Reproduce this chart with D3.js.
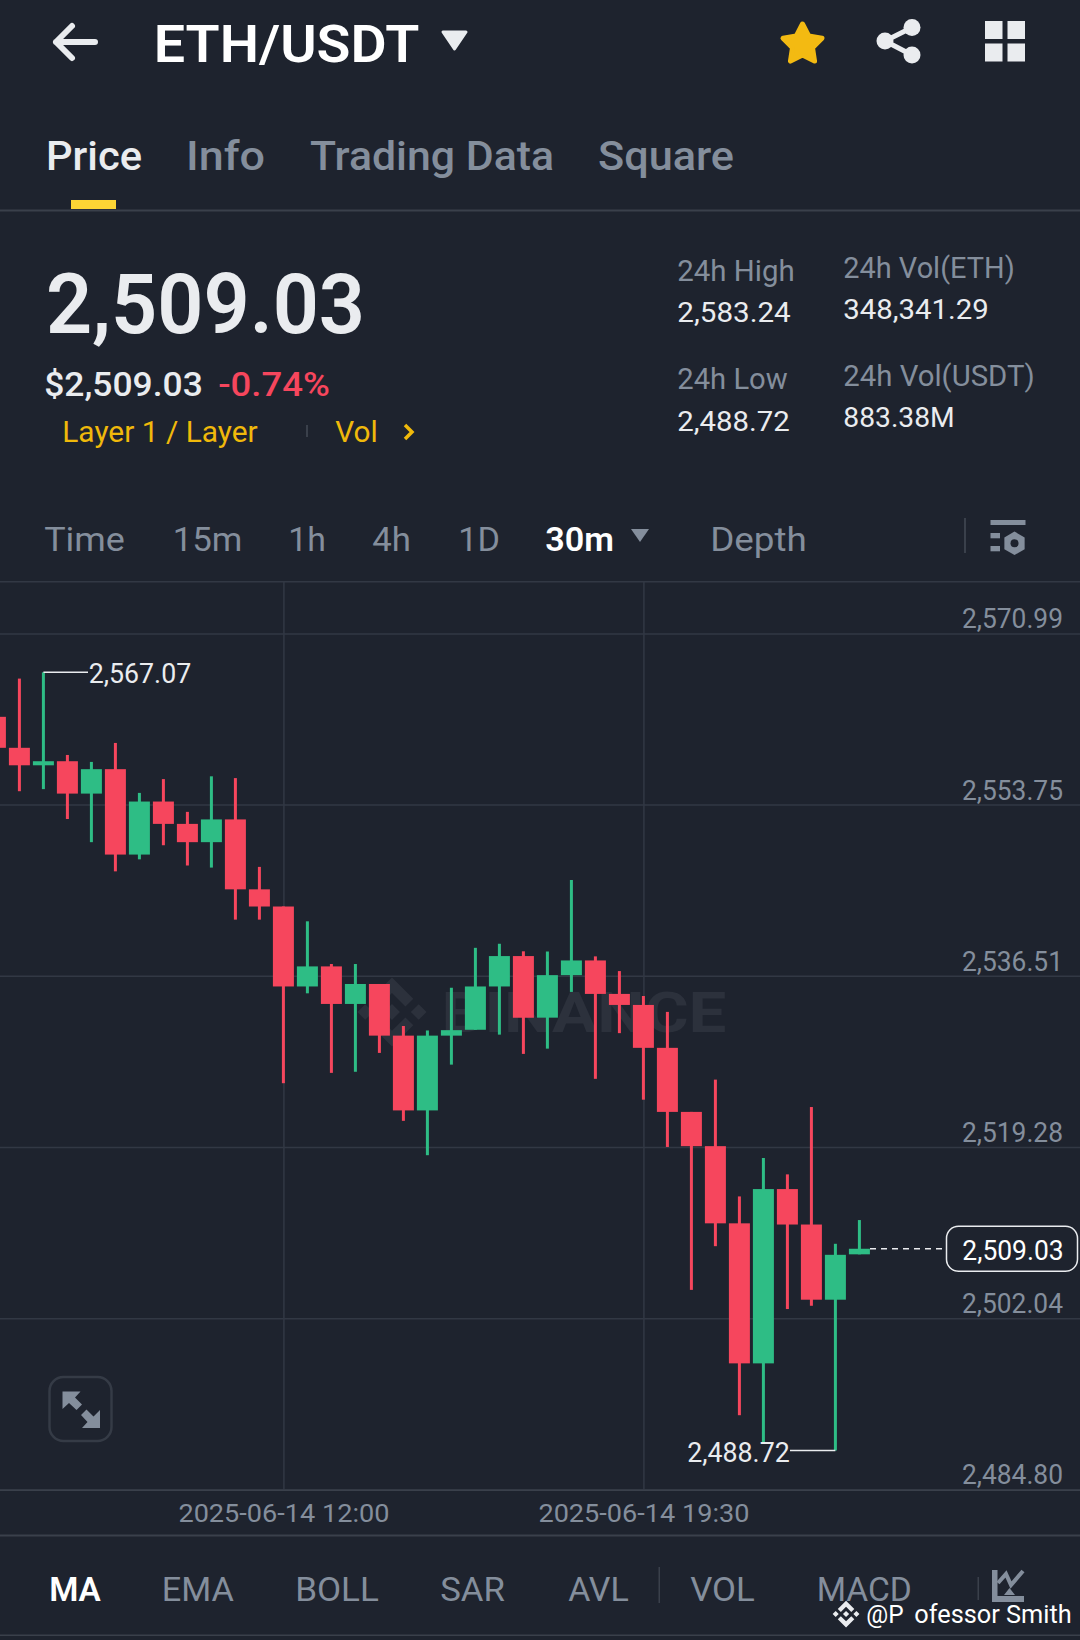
<!DOCTYPE html>
<html>
<head>
<meta charset="utf-8">
<script src="https://cdn.jsdelivr.net/npm/d3@7"></script>
<style>
  html, body { margin: 0; padding: 0; background: #1e232e; }
  svg { display: block; }
  text { font-family: Roboto, "Noto Sans", sans-serif; }
</style>
</head>
<body>
<div id="chart"></div>
<script>
// candles (30m)
const candleTimes = [
  "2025-06-14 06:00", "2025-06-14 06:30", "2025-06-14 07:00", "2025-06-14 07:30", "2025-06-14 08:00",
  "2025-06-14 08:30", "2025-06-14 09:00", "2025-06-14 09:30", "2025-06-14 10:00", "2025-06-14 10:30",
  "2025-06-14 11:00", "2025-06-14 11:30", "2025-06-14 12:00", "2025-06-14 12:30", "2025-06-14 13:00",
  "2025-06-14 13:30", "2025-06-14 14:00", "2025-06-14 14:30", "2025-06-14 15:00", "2025-06-14 15:30",
  "2025-06-14 16:00", "2025-06-14 16:30", "2025-06-14 17:00", "2025-06-14 17:30", "2025-06-14 18:00",
  "2025-06-14 18:30", "2025-06-14 19:00", "2025-06-14 19:30", "2025-06-14 20:00", "2025-06-14 20:30",
  "2025-06-14 21:00", "2025-06-14 21:30", "2025-06-14 22:00", "2025-06-14 22:30", "2025-06-14 23:00",
  "2025-06-14 23:30", "2025-06-15 00:00"
];
const opens = [
  2562.59, 2559.47, 2557.71, 2558.12, 2554.86, 2557.32, 2548.72, 2554.06, 2551.81, 2549.97,
  2552.26, 2545.22, 2543.49, 2535.44, 2537.46, 2533.68, 2535.69, 2530.49, 2522.96, 2530.49,
  2531.08, 2535.44, 2538.50, 2532.30, 2536.58, 2538.06, 2534.69, 2533.58, 2529.26, 2522.81,
  2519.36, 2511.59, 2497.49, 2515.04, 2511.47, 2503.90, 2508.47
];
const highs = [
  2565.00, 2566.44, 2567.07, 2558.75, 2558.05, 2559.96, 2554.93, 2556.32, 2553.02, 2556.60,
  2556.42, 2547.48, 2543.49, 2542.00, 2537.70, 2537.70, 2535.69, 2531.46, 2531.01, 2535.31,
  2539.33, 2539.74, 2538.98, 2538.96, 2546.16, 2538.47, 2536.99, 2534.48, 2532.88, 2522.81,
  2526.06, 2514.30, 2518.17, 2516.52, 2523.30, 2509.53, 2511.92
];
const lows = [
  2557.90, 2555.10, 2555.31, 2552.30, 2549.97, 2547.03, 2548.24, 2549.66, 2547.62, 2547.41,
  2542.17, 2542.17, 2525.70, 2534.75, 2526.74, 2526.85, 2528.75, 2521.91, 2518.45, 2527.57,
  2531.08, 2530.59, 2528.65, 2529.18, 2534.89, 2526.14, 2530.74, 2524.04, 2519.28, 2504.89,
  2509.29, 2492.27, 2489.48, 2502.96, 2503.29, 2488.72, 2508.47
];
const closes = [
  2559.47, 2557.71, 2558.12, 2554.86, 2557.32, 2548.72, 2554.06, 2551.81, 2549.97, 2552.26,
  2545.22, 2543.49, 2535.44, 2537.46, 2533.68, 2535.69, 2530.49, 2522.96, 2530.49, 2531.04,
  2535.44, 2538.50, 2532.29, 2536.58, 2538.06, 2534.69, 2533.58, 2529.26, 2522.81, 2519.36,
  2511.59, 2497.49, 2515.04, 2511.47, 2503.90, 2508.42, 2509.03
];

const priceTicks = [2570.99, 2553.75, 2536.51, 2519.28, 2502.04, 2484.80];
const timeTicks = ["2025-06-14 12:00", "2025-06-14 19:30"];
const lastPrice = 2509.03;
const highMark = { time: "2025-06-14 07:00", price: 2567.07 };
const lowMark = { time: "2025-06-14 23:30", price: 2488.72 };

const tabs = ["Price", "Info", "Trading Data", "Square"];
const periods = ["Time", "15m", "1h", "4h", "1D", "30m", "Depth"];
const indicators = ["MA", "EMA", "BOLL", "SAR", "AVL", "VOL", "MACD"];

const UP = "#2ebd85", DOWN = "#f6465d";
const WHITE = "#eaecef", GREY = "#848e9c", YELLOW = "#f0b90b", LINE = "#323844";

const width = 1080, height = 1640;
const chartTop = 582, chartBottom = 1489.4;

// binance logo outline in its own 126 box
const LOGO = "M38.73 53.21L63 28.94L87.28 53.22L101.4 39.1L63 .7L24.6 39.1Z" +
  "M.7 63L14.82 48.88L28.94 63L14.82 77.12Z" +
  "M38.73 72.79L63 97.06L87.28 72.78L101.4 86.89L63 125.3L24.6 86.9Z" +
  "M97.06 63L111.18 48.88L125.3 63L111.18 77.12Z" +
  "M77.32 63L63 48.67L48.68 62.99L63 77.32Z";

const parseTime = d3.utcParse("%Y-%m-%d %H:%M");
const fmtPrice = d3.format(",.2f");

const svg = d3.select("#chart").append("svg")
  .attr("width", width)
  .attr("height", height)
  .attr("viewBox", `0 0 ${width} ${height}`);

svg.append("rect").attr("width", width).attr("height", height).attr("fill", "#1e232e");

const x = d3.scaleUtc()
  .domain([parseTime(timeTicks[0]), parseTime(timeTicks[1])])
  .range([283.4, 643.4]);
const y = d3.scaleLinear()
  .domain([2484.80, 2570.99])
  .range([1489.4, 633.4]);

// text helper: l = visible width in px, pad covers the side bearings of the font
function label(g, str, tx, ty, size, fill, weight, l) {
  const pad = size * 0.025;
  const t = g.append("text")
    .attr("x", tx - pad).attr("y", ty)
    .attr("font-size", size)
    .attr("font-weight", weight || 400)
    .attr("fill", fill)
    .text(str);
  if (l) t.attr("textLength", l + pad * 2).attr("lengthAdjust", "spacingAndGlyphs");
  return t;
}

// star / hexagon outlines
const radial = d3.lineRadial().curve(d3.curveLinearClosed);
const starPts = d3.range(10).map(i => [i * Math.PI / 5, i % 2 ? 10.5 : 20.5]);
const hexPts = d3.range(6).map(i => [i * Math.PI / 3, 11.7]);

// watermark sits under everything in the plot
const mark = svg.append("g");
mark.append("path").attr("d", LOGO).attr("fill", "#2c313c")
  .attr("transform", "translate(357,977) scale(.555)");
label(mark, "BINANCE", 443, 1032, 56, "#2c313c", 700, 282);

// grid + axes
const yAxis = d3.axisRight(y)
  .tickValues(priceTicks)
  .tickSize(width)
  .tickFormat(fmtPrice);
const gy = svg.append("g").call(yAxis);
gy.select(".domain").remove();
gy.selectAll("line").attr("stroke", LINE).attr("stroke-width", 1.5);
gy.selectAll("text")
  .attr("x", 962).attr("dy", -5.5)
  .attr("text-anchor", "start")
  .attr("font-size", 27.5)
  .attr("textLength", 101).attr("lengthAdjust", "spacingAndGlyphs")
  .attr("fill", GREY);
gy.attr("font-family", null).attr("font-size", null);

const xAxis = d3.axisBottom(x)
  .tickValues(timeTicks.map(parseTime))
  .tickSize(chartTop - chartBottom)
  .tickFormat(d3.utcFormat("%Y-%m-%d %H:%M"));
const gx = svg.append("g").attr("transform", `translate(0,${chartBottom})`).call(xAxis);
gx.select(".domain").remove();
gx.selectAll("line").attr("stroke", LINE).attr("stroke-width", 1.5);
gx.selectAll("text")
  .attr("y", 33).attr("dy", 0)
  .attr("font-size", 26.5)
  .attr("textLength", 211).attr("lengthAdjust", "spacingAndGlyphs")
  .attr("fill", GREY);
gx.attr("font-family", null).attr("font-size", null);

// candles
const candles = candleTimes.map((t, i) => ({
  t: parseTime(t), o: opens[i], h: highs[i], l: lows[i], c: closes[i]
}));
const bodyW = 21, wickW = 3;
const cg = svg.append("g")
  .selectAll("g")
  .data(candles)
  .join("g")
  .attr("fill", d => (d.c >= d.o ? UP : DOWN));
cg.append("rect")
  .attr("x", d => x(d.t) - wickW / 2)
  .attr("width", wickW)
  .attr("y", d => y(d.h))
  .attr("height", d => y(d.l) - y(d.h));
cg.append("rect")
  .attr("x", d => x(d.t) - bodyW / 2)
  .attr("width", bodyW)
  .attr("y", d => y(Math.max(d.o, d.c)))
  .attr("height", d => Math.abs(y(d.o) - y(d.c)));

// high / low markers
const hx = x(parseTime(highMark.time)), hy = y(highMark.price);
svg.append("line").attr("x1", hx).attr("x2", 88).attr("y1", hy).attr("y2", hy)
  .attr("stroke", WHITE).attr("stroke-width", 1.5);
label(svg, fmtPrice(highMark.price), 89.5, hy + 10.5, 27.5, WHITE, 400, 101);

const lx = x(parseTime(lowMark.time)), ly = y(lowMark.price);
svg.append("line").attr("x1", 790).attr("x2", lx).attr("y1", ly).attr("y2", ly)
  .attr("stroke", WHITE).attr("stroke-width", 1.5);
label(svg, fmtPrice(lowMark.price), 688, ly + 11.5, 27.5, WHITE, 400, 101);

// last price line and box
const py = y(lastPrice);
svg.append("line").attr("x1", 870).attr("x2", 946).attr("y1", py).attr("y2", py)
  .attr("stroke", WHITE).attr("stroke-width", 1.3).attr("stroke-dasharray", "6 5");
svg.append("rect")
  .attr("x", 946.5).attr("y", py - 22.5).attr("width", 131).attr("height", 45).attr("rx", 12)
  .attr("fill", "#1e232e").attr("stroke", WHITE).attr("stroke-width", 1.5);
label(svg, fmtPrice(lastPrice), 963, py + 11, 27.5, "#ffffff", 400, 100);

// expand button
svg.append("rect")
  .attr("x", 49.5).attr("y", 1377).attr("width", 62).attr("height", 64).attr("rx", 14)
  .attr("fill", "none").attr("stroke", "#353b46").attr("stroke-width", 2.5);
svg.append("path").attr("fill", GREY)
  .attr("d", "M62.5,1391.5 L80.5,1391.5 L75,1397.5 L82,1404.5 L76.5,1410 L69,1403 L62.5,1409 Z M100,1428 L82,1428 L87.5,1422 L81,1415 L86.5,1409.5 L93.5,1416.5 L100,1410 Z");

// header ---------------------------------------------------------
const head = svg.append("g");
head.append("path")
  .attr("d", "M95,42 L56,42 M72,26 L56,42 L72,58")
  .attr("fill", "none").attr("stroke", WHITE).attr("stroke-width", 6)
  .attr("stroke-linecap", "round").attr("stroke-linejoin", "round");
label(head, "ETH/USDT", 155, 62, 51, "#ffffff", 600, 263);
head.append("path").attr("d", "M443,32 L466,32 L454.5,49 Z").attr("fill", WHITE)
  .attr("stroke", WHITE).attr("stroke-width", 3).attr("stroke-linejoin", "round");

// star
head.append("path").attr("d", radial(starPts)).attr("transform", "translate(802.5,44.5)")
  .attr("fill", "#f3ba12").attr("stroke", "#f3ba12").attr("stroke-width", 5).attr("stroke-linejoin", "round");

// share
head.append("path").attr("d", "M912,27.5 L885,41 L912,55")
  .attr("fill", "none").attr("stroke", WHITE).attr("stroke-width", 5);
[[912, 27.5, 8.5], [885, 41, 8.5], [912, 55, 8.5]].forEach(([cx, cy, r]) => {
  head.append("circle").attr("cx", cx).attr("cy", cy).attr("r", r).attr("fill", WHITE);
});

// layout icon
[[985, 21], [1007.5, 21], [985, 43.5], [1007.5, 43.5]].forEach(([a, b]) => {
  head.append("rect").attr("x", a).attr("y", b).attr("width", 17.5).attr("height", 18).attr("fill", WHITE);
});

// tabs
const tabX = [47, 187, 311, 599], tabW = [94, 77, 242, 134];
tabs.forEach((t, i) => label(head, t, tabX[i], 170, 40, i === 0 ? WHITE : GREY, 500, tabW[i]));
head.append("rect").attr("x", 71).attr("y", 200).attr("width", 45).attr("height", 9).attr("fill", "#fcd535");
head.append("rect").attr("x", 0).attr("y", 209.5).attr("width", width).attr("height", 2).attr("fill", "#3a404b");

// price block
label(head, "2,509.03", 48, 333, 83, WHITE, 600, 315);
label(head, "$2,509.03", 45, 396, 34, WHITE, 500, 157);
label(head, "-0.74%", 219, 396, 34, DOWN, 500, 110);
label(head, "Layer 1 / Layer", 63, 442, 29, YELLOW, 400, 194);
head.append("rect").attr("x", 306).attr("y", 425).attr("width", 2).attr("height", 12).attr("fill", "#3a404b");
label(head, "Vol", 336, 442, 29, YELLOW, 400, 41);
head.append("path").attr("d", "M405,425 L412,432 L405,439").attr("fill", "none")
  .attr("stroke", YELLOW).attr("stroke-width", 3.5);

// 24h stats
label(head, "24h High", 678, 281, 29, GREY, 400, 116);
label(head, "2,583.24", 678, 322, 28, WHITE, 400, 112);
label(head, "24h Low", 678, 389, 29, GREY, 400, 109);
label(head, "2,488.72", 678, 431, 28, WHITE, 400, 111);
label(head, "24h Vol(ETH)", 844, 278, 29, GREY, 400, 170);
label(head, "348,341.29", 844, 319, 28, WHITE, 400, 144);
label(head, "24h Vol(USDT)", 844, 386, 29, GREY, 400, 190);
label(head, "883.38M", 844, 427, 28, WHITE, 400, 110);

// period row
const perX = [45, 173.5, 289, 373, 459, 546, 711], perW = [79, 68, 36, 37, 40, 67, 95];
periods.forEach((p, i) => label(head, p, perX[i], 551, 34, p === "30m" ? "#ffffff" : GREY, p === "30m" ? 600 : 400, perW[i]));
head.append("path").attr("d", "M631,529 L649,529 L640,542 Z").attr("fill", GREY);
head.append("rect").attr("x", 964).attr("y", 518).attr("width", 2).attr("height", 35).attr("fill", "#3a404b");
head.append("rect").attr("x", 990.5).attr("y", 520).attr("width", 35).attr("height", 5).attr("fill", GREY);
head.append("rect").attr("x", 990.5).attr("y", 533).attr("width", 9.5).attr("height", 5.3).attr("fill", GREY);
head.append("rect").attr("x", 990.5).attr("y", 546).attr("width", 9.5).attr("height", 5.3).attr("fill", GREY);
head.append("path").attr("d", radial(hexPts)).attr("transform", "translate(1014.5,543.3)").attr("fill", GREY);
head.append("circle").attr("cx", 1014.5).attr("cy", 543.3).attr("r", 4).attr("fill", "#1e232e");
head.append("rect").attr("x", 0).attr("y", 581).attr("width", width).attr("height", 1.5).attr("fill", LINE);

// bottom ---------------------------------------------------------
const foot = svg.append("g");
foot.append("rect").attr("x", 0).attr("y", 1489.5).attr("width", width).attr("height", 1.5).attr("fill", "#3a404b");
foot.append("rect").attr("x", 0).attr("y", 1534.5).attr("width", width).attr("height", 2).attr("fill", "#3a404b");
foot.append("rect").attr("x", 0).attr("y", 1634.5).attr("width", width).attr("height", 1.5).attr("fill", "#3a404b");

const indX = [50, 162.5, 296, 441, 569, 691, 817.5], indW = [50, 70.5, 82, 63, 59, 63, 93.5];
indicators.forEach((t, i) => label(foot, t, indX[i], 1601, 34, i === 0 ? "#ffffff" : GREY, i === 0 ? 600 : 400, indW[i]));
foot.append("rect").attr("x", 658.5).attr("y", 1567).attr("width", 1.5).attr("height", 36).attr("fill", "#3a404b");
foot.append("rect").attr("x", 977.5).attr("y", 1577).attr("width", 1.5).attr("height", 23).attr("fill", "#3a404b");
foot.append("path").attr("fill", GREY)
  .attr("d", "M992,1570 L997.5,1570 L997.5,1596 L1024,1596 L1024,1602 L992,1602 Z M1004,1595 L1015,1595 L1009.5,1588 Z");
foot.append("path").attr("d", "M998,1583 L1006,1574 L1011,1585 L1023,1571").attr("fill", "none")
  .attr("stroke", GREY).attr("stroke-width", 4);

// binance badge + author
foot.append("path").attr("d", LOGO).attr("fill", WHITE)
  .attr("transform", "translate(832.5,1600.5) scale(.215)");
label(foot, "@P", 867, 1623, 26.5, "#ffffff", 400, 36);
label(foot, "ofessor Smith", 915, 1623, 26.5, "#ffffff", 400, 156);
</script>
</body>
</html>
